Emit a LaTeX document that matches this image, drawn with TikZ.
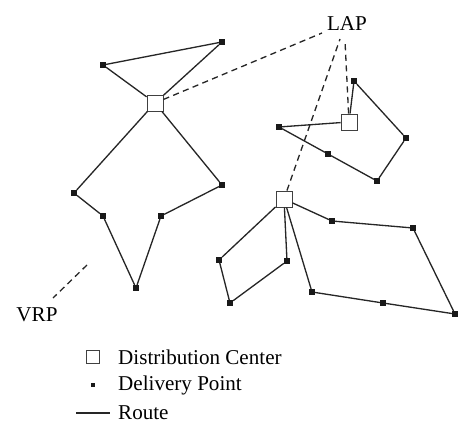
\documentclass[tikz,border=0pt]{standalone}
\usepackage{fontspec}
\setmainfont{Liberation Serif}
\begin{document}
\begin{tikzpicture}[
    dcbox/.style={draw=black!75,line width=0.5pt,minimum size=0.32cm,inner sep=0pt,fill=white},
    dpoint/.style={fill=black!90,minimum size=0.11cm,inner sep=0pt},
    route/.style={line width=0.75pt,black!85},
    link/.style={line width=0.75pt,black!85,dash pattern=on 3.5pt off 2.5pt},
    font=\fontsize{12}{14}\selectfont]
    \useasboundingbox (0,0) rectangle (9.48,8.72);
    % left cluster
    \node[dcbox] (dc1) at (3.10,6.66) {};
    \node[dpoint] (a1) at (2.06,7.42) {};
    \node[dpoint] (a2) at (4.44,7.88) {};
    \node[dpoint] (a3) at (1.48,4.86) {};
    \node[dpoint] (a4) at (2.06,4.40) {};
    \node[dpoint] (a5) at (2.72,2.96) {};
    \node[dpoint] (a6) at (3.22,4.40) {};
    \node[dpoint] (a7) at (4.44,5.02) {};
    \draw[route] (dc1) -- (a1) -- (a2) -- (dc1);
    \draw[route] (dc1) -- (a3) -- (a4) -- (a5) -- (a6) -- (a7) -- (dc1);
    % upper right cluster
    \node[dcbox] (dc2) at (6.98,6.28) {};
    \node[dpoint] (b1) at (7.08,7.10) {};
    \node[dpoint] (b2) at (8.12,5.96) {};
    \node[dpoint] (b3) at (7.54,5.10) {};
    \node[dpoint] (b4) at (6.56,5.64) {};
    \node[dpoint] (b5) at (5.58,6.18) {};
    \draw[route] (dc2) -- (b1) -- (b2) -- (b3) -- (b4) -- (b5) -- (dc2);
    % lower right cluster
    \node[dcbox] (dc3) at (5.68,4.74) {};
    \node[dpoint] (c1) at (6.64,4.30) {};
    \node[dpoint] (c2) at (8.26,4.16) {};
    \node[dpoint] (c3) at (9.10,2.44) {};
    \node[dpoint] (c4) at (7.66,2.66) {};
    \node[dpoint] (c5) at (6.24,2.88) {};
    \node[dpoint] (c6) at (4.38,3.52) {};
    \node[dpoint] (c7) at (4.60,2.66) {};
    \node[dpoint] (c8) at (5.74,3.50) {};
    \draw[route] (dc3) -- (c1) -- (c2) -- (c3) -- (c4) -- (c5) -- (dc3);
    \draw[route] (dc3) -- (c6) -- (c7) -- (c8) -- (dc3);
    % labels
    \node (lap) at (6.94,8.24) {LAP};
    \coordinate (lapA) at (6.44,8.06);
    \coordinate (lapB) at (6.80,7.94);
    \coordinate (lapC) at (6.90,7.90);
    \draw[link] (dc1) -- (lapA);
    \draw[link] (dc3) -- (lapB);
    \draw[link] (dc2) -- (lapC);
    \node (vrp) at (0.74,2.42) {VRP};
    \coordinate (vrpA) at (1.74,3.42);
    \coordinate (vrpB) at (1.06,2.76);
    \draw[link] (vrpA) -- (vrpB);
    % legend
    \node[dcbox,minimum size=0.26cm] (lg1) at (1.86,1.58) {};
    \node[anchor=west] (lt1) at (2.24,1.58) {Distribution Center};
    \node[dpoint,minimum size=0.09cm] (lg2) at (1.86,1.02) {};
    \node[anchor=west] (lt2) at (2.24,1.02) {Delivery Point};
    \coordinate (lg3) at (1.52,0.46);
    \coordinate (lg4) at (2.20,0.46);
    \draw[route] (lg3) -- (lg4);
    \node[anchor=west] (lt3) at (2.24,0.46) {Route};
\end{tikzpicture}
\end{document}
